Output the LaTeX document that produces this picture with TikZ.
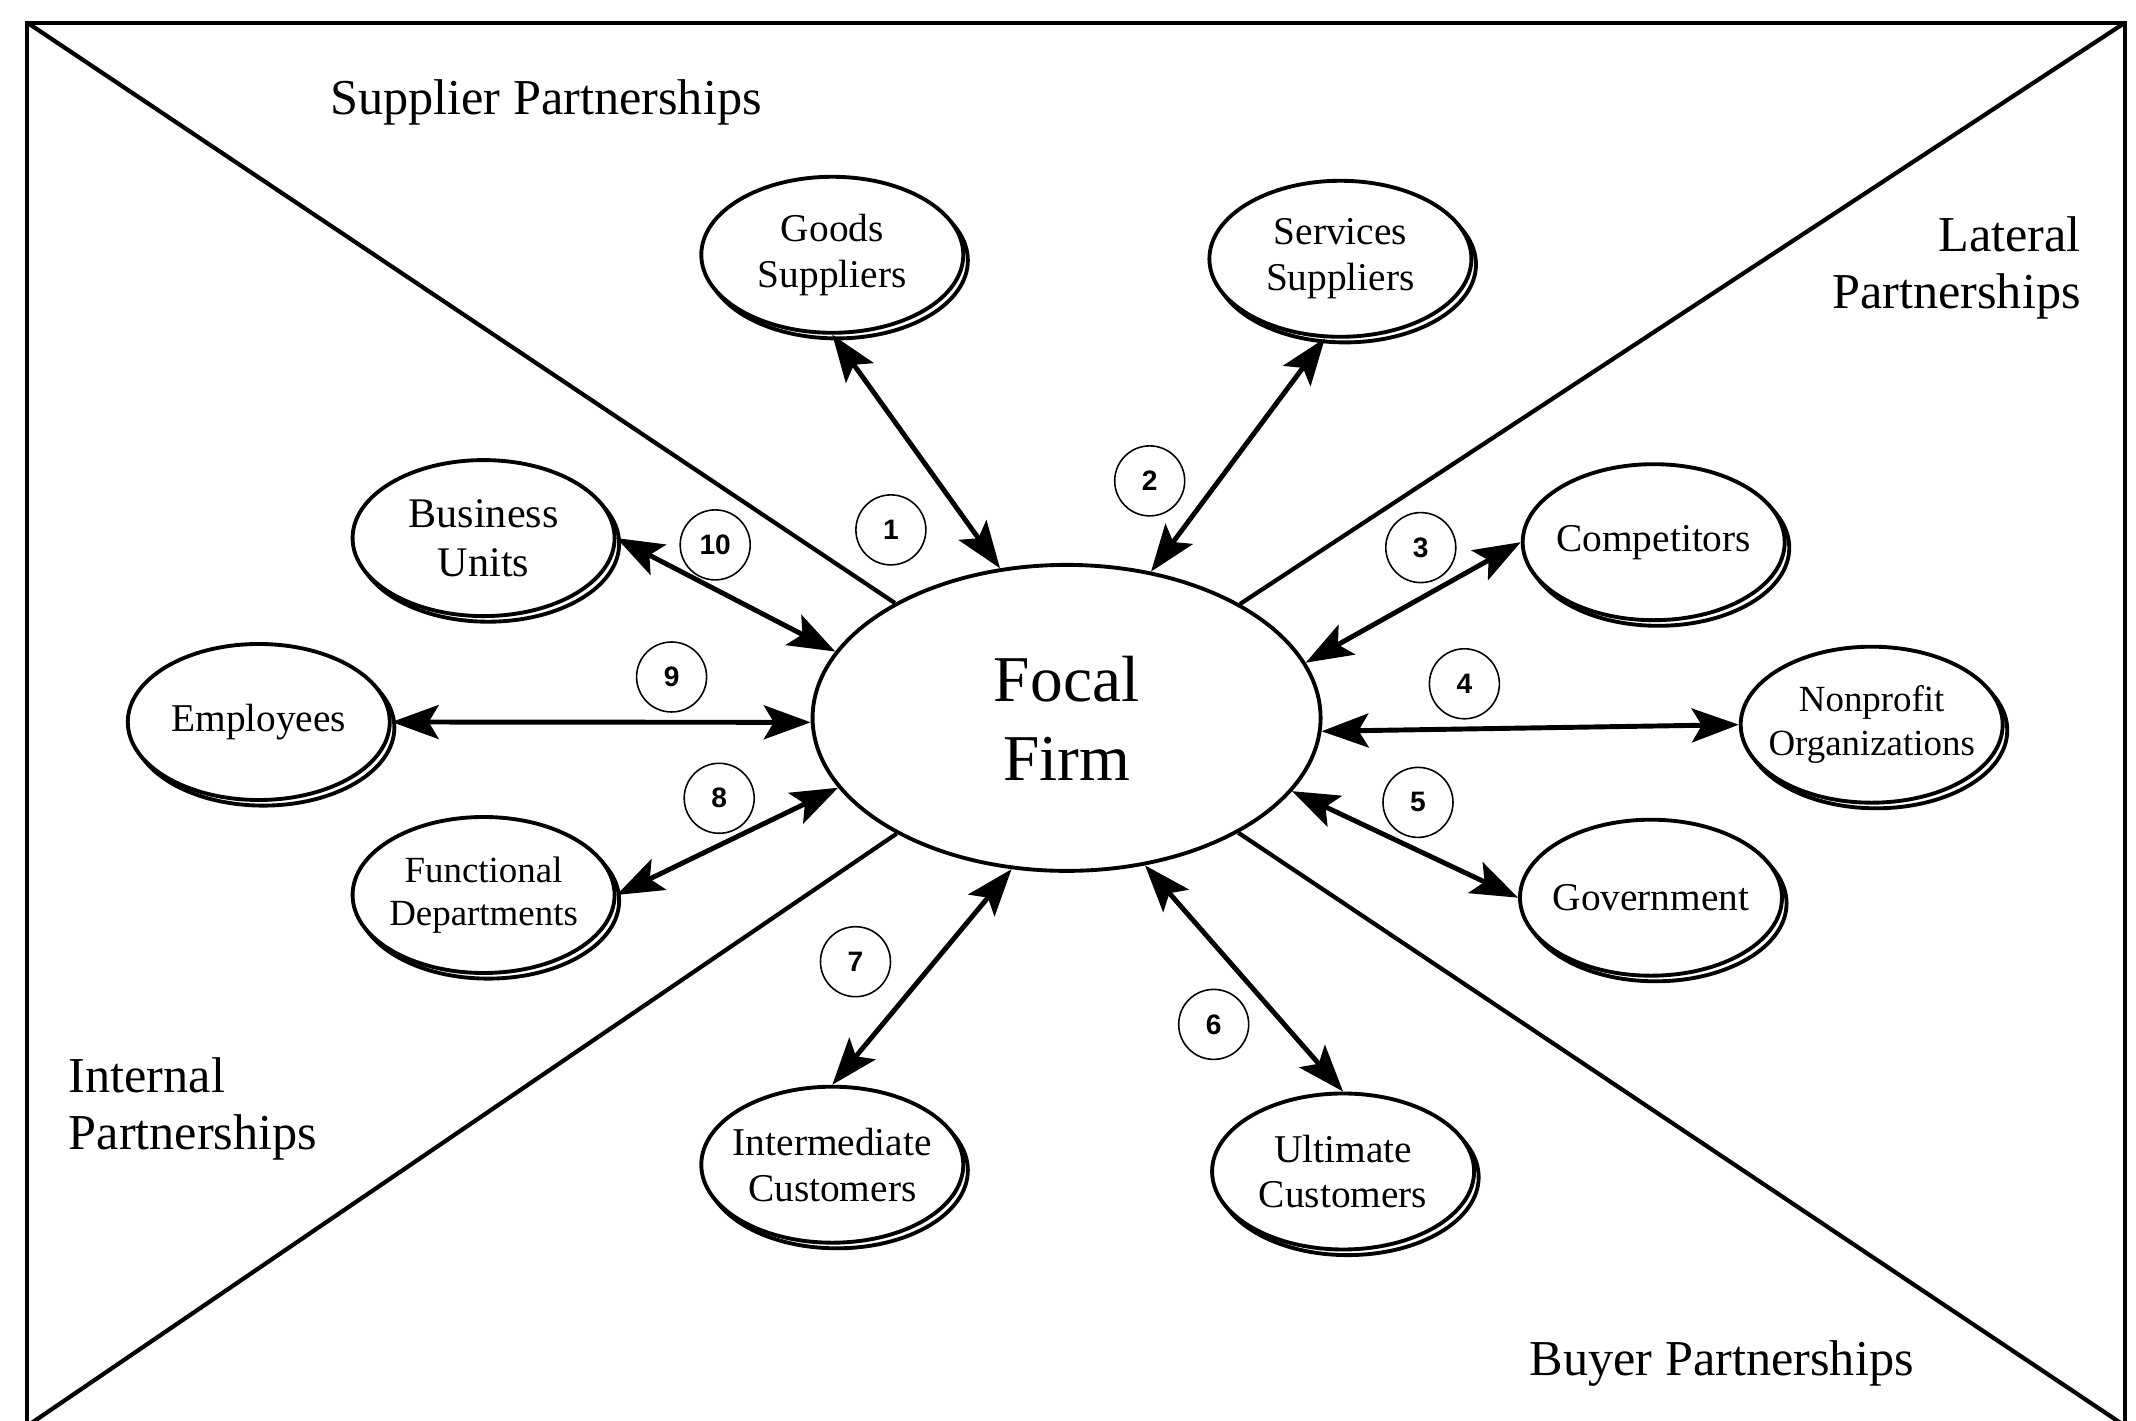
\documentclass[tikz,border=0pt]{standalone}
\usepackage{fontspec}
\setmainfont{Liberation Serif}
\newfontfamily\numfont{Liberation Sans}
\usetikzlibrary{arrows.meta,shapes.geometric,shadows}

\begin{document}
\begin{tikzpicture}[
  font=\fontsize{11.2}{13}\selectfont, >={Stealth[length=4.7mm, width=3.4mm, inset=1mm]},
  focus/.style={draw, ellipse, line width=1.1pt, fill=white, align=center,
                minimum width=5.08cm, minimum height=3.06cm, font=\fontsize{18.6}{22.5}\selectfont},
  party/.style={draw, ellipse, line width=1.1pt, fill=white, align=center,
                minimum width=2.62cm, minimum height=1.56cm, inner xsep=-1.5mm, inner ysep=0pt,
                copy shadow={shadow xshift=1.3pt, shadow yshift=-1.6pt}},
  small/.style={font=\fontsize{10.5}{12.4}\selectfont},
  num/.style={draw, circle, line width=0.45pt, minimum size=0.7cm, inner sep=0pt,
              font=\numfont\bfseries\fontsize{8}{8}\selectfont},
  zone/.style={inner sep=0pt, font=\fontsize{14.3}{16.3}\selectfont},
  split/.style={line width=1.2pt},
  link/.style={<->, line width=1.4pt}]
  \useasboundingbox (-10.666,-7.031) rectangle (10.694,7.179);
  \coordinate (tl) at (-10.393,6.952);
  \coordinate (tr) at (10.584,6.952);
  \coordinate (bl) at (-10.393,-7.08);
  \coordinate (br) at (10.584,-7.08);
  \draw[split] (tl) -- (tr) -- (br) -- (bl) -- cycle;
  \node[zone, anchor=west] (supplier) at (-7.369,6.15) {Supplier Partnerships};
  \node[zone, anchor=east, align=right] (lateral) at (10.148,4.50) {Lateral\\Partnerships};
  \node[zone, anchor=west, align=left] (internal) at (-9.985,-3.91) {Internal\\Partnerships};
  \node[zone] (buyer) at (6.552,-6.46) {Buyer Partnerships};
  \node[focus] (focal) at (0,0) {Focal\\Firm};
  \node[party] (goods)        at (-2.343,4.631)  {Goods\\Suppliers};
  \node[party] (services)     at (2.738,4.591)   {Services\\Suppliers};
  \node[party] (competitors)  at (5.871,1.757)   {Competitors};
  \node[party, small] (nonprofit) at (8.051,-0.068) {Nonprofit\\Organizations};
  \node[party] (government)   at (5.844,-1.798)  {Government};
  \node[party] (ultimate)     at (2.765,-4.536)  {Ultimate\\Customers};
  \node[party] (intermediate) at (-2.343,-4.468) {Intermediate\\Customers};
  \node[party, small] (functional) at (-5.830,-1.771) {Functional\\Departments};
  \node[party] (employees)    at (-8.078,-0.041) {Employees};
  \node[party, font=\fontsize{12}{14}\selectfont] (business) at (-5.830,1.798) {Business\\Units};
  \foreach \n/\x/\y in {1/-1.757/1.880, 2/0.831/2.370, 3/3.542/1.703, 4/3.978/0.341, 5/3.514/-0.845,
                        6/1.471/-3.065, 7/-2.111/-2.438, 8/-3.474/-0.804, 9/-3.950/0.409, 10/-3.514/1.730}
    {\node[num] (n\n) at (\x,\y) {\n};}
  \foreach \c in {tl,tr,bl,br} {\draw[split] (\c) -- (focal);}
  \foreach \p/\a/\b in {goods/south/114, services/259/60, competitors/west/13, nonprofit/west/-3,
                        government/west/-18, ultimate/north/-62, intermediate/north/-110,
                        functional/east/197, employees/east/181, business/east/164}
    {\draw[link] (\p.\a) -- (focal.\b);}
\end{tikzpicture}
\end{document}
